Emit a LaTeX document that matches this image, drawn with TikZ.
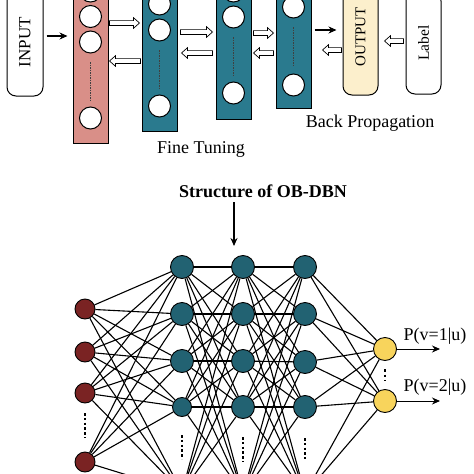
\documentclass[tikz,border=0pt]{standalone}
\usepackage{fontspec}
\usepackage{graphicx}
\setmainfont{Liberation Serif}
\usetikzlibrary{arrows.meta,calc}
\definecolor{pinkcol}{HTML}{D98F88}
\definecolor{tealcol}{HTML}{2A7A8E}
\definecolor{darkred}{HTML}{7A2323}
\definecolor{yel}{HTML}{F8D45C}
\definecolor{outfill}{HTML}{FCEFCC}
\tikzset{
  colbox/.style={draw=black, line width=1pt, minimum width=35pt, inner sep=0pt},
  rbox/.style={draw=black, line width=1pt, rounded corners=9pt, minimum width=36pt, inner sep=0pt},
  wcirc/.style={circle, draw=black, line width=1pt, fill=white, minimum size=22pt, inner sep=0pt},
  coldots/.style={line width=1pt, dash pattern=on 1.5pt off 1pt, black!75},
  hollow/.style={draw=black, line width=0.7pt, fill=white, to path={
    let \p1=(\tikztostart), \p2=(\tikztotarget), \n1={ifthenelse(\x2>\x1,1,-1)} in
    (\x1,\y1+2.4pt) -- (\x2-\n1*6pt,\y1+2.4pt) -- (\x2-\n1*6pt,\y1+5.3pt) -- (\x2,\y1)
    -- (\x2-\n1*6pt,\y1-5.3pt) -- (\x2-\n1*6pt,\y1-2.4pt) -- (\x1,\y1-2.4pt) -- cycle}},
  solidarr/.style={line width=1.1pt, -{Stealth[length=8pt, width=7pt]}},
  inode/.style={circle, draw=black, line width=0.9pt, fill=darkred, minimum size=20pt, inner sep=0pt},
  hnode/.style={circle, draw=black, line width=0.9pt, fill=tealcol!80!black, minimum size=23pt, inner sep=0pt},
  onode/.style={circle, draw=black, line width=0.9pt, fill=yel, minimum size=23pt, inner sep=0pt},
  edge/.style={line width=1.1pt, black},
  netdots/.style={line width=2.6pt, dash pattern=on 2.6pt off 2.2pt},
}
\begin{document}
\begin{tikzpicture}[x=1pt, y=-1pt, font=\fontsize{18}{21}\selectfont]
\useasboundingbox (0,0) rectangle (474,474);
\clip (0,0) rectangle (474,474);

% ---------- top part ----------
\node[rbox, minimum height=108pt] (inbox) at (25,42) {\rotatebox{90}{\fontsize{17}{20}\selectfont INPUT}};
\node[colbox, fill=pinkcol, minimum height=163pt] (pink) at (90.5,61.5) {};
\node[colbox, fill=tealcol, minimum height=151pt] (t1) at (159.5,55.5) {};
\node[colbox, fill=tealcol, minimum height=139pt] (t2) at (233.5,49.5) {};
\node[colbox, fill=tealcol, minimum height=128pt] (t3) at (293.5,44) {};
\node[rbox, fill=outfill, minimum width=35pt, minimum height=116pt] (outbox) at (360.5,37) {\rotatebox{90}{\fontsize{15}{18}\selectfont OUTPUT}};
\node[rbox, minimum width=35pt, minimum height=102pt] (lab) at (423.5,43) {\rotatebox{90}{\fontsize{15.5}{18}\selectfont Label}};

% circles in columns
\node[wcirc] (p0) at (90.5,-9) {};
\node[wcirc] (p1) at (90.5,16.5) {};
\node[wcirc] (p2) at (90.5,42) {};
\node[wcirc] (p3) at (90.5,118) {};
\draw[coldots] (90.5,62) -- (90.5,100);

\node[wcirc] (a1) at (159.5,4) {};
\node[wcirc] (a2) at (159.5,30) {};
\node[wcirc] (a3) at (159.5,106) {};
\draw[coldots] (159.5,50) -- (159.5,88);

\node[wcirc] (b0) at (233.5,-9) {};
\node[wcirc] (b1) at (233.5,17) {};
\node[wcirc] (b2) at (233.5,93) {};
\draw[coldots] (233.5,37) -- (233.5,76);

\node[wcirc] (c1) at (293.5,7) {};
\node[wcirc] (c2) at (293.5,85) {};
\draw[coldots] (293.5,27) -- (293.5,67);

% arrows top
\draw[solidarr, shorten <=3pt, shorten >=5pt] (inbox.east |- 0,36) -- (pink.west |- 0,36);
\draw[hollow] ($(pink.east |- 0,23)+(1,0)$) to ($(t1.west |- 0,23)+(-2,0)$);
\draw[hollow] ($(t1.west |- 0,61)+(-1,0)$) to ($(pink.east |- 0,61)+(1,0)$);
\draw[hollow] ($(t1.east |- 0,32)+(3,0)$) to ($(t2.west |- 0,32)+(-3,0)$);
\draw[hollow] ($(t2.west |- 0,53)+(-3,0)$) to ($(t1.east |- 0,53)+(4,0)$);
\draw[hollow] ($(t2.east |- 0,33)+(2,0)$) to ($(t3.west |- 0,33)+(-2,0)$);
\draw[hollow] ($(t3.west |- 0,53)+(-2,0)$) to ($(t2.east |- 0,53)+(2,0)$);
\draw[solidarr, shorten <=3pt, shorten >=6pt] (t3.east |- 0,30) -- (outbox.west |- 0,30);
\draw[hollow] ($(outbox.west |- 0,50)+(-1,0)$) to ($(t3.east |- 0,50)+(11,0)$);
\draw[hollow] ($(lab.west |- 0,41)+(-2,0)$) to ($(outbox.east |- 0,41)+(6,0)$);

\node (bp) at (370,123) {Back Propagation};
\node (ft) at (201,149) {Fine Tuning};

% ---------- bottom part ----------
\node[font=\fontsize{18}{21}\selectfont\bfseries] (title) at (263,191) {Structure of OB-DBN};
\coordinate (arrtop) at (234,202);
\coordinate (arrbot) at (234,246);
\draw[solidarr] (arrtop) -- (arrbot);

\foreach \y [count=\i] in {309,352,393,462} \node[inode] (in\i) at (85,\y) {};
\node[hnode] (ha1) at (182,267) {};
\node[hnode] (ha2) at (182,314) {};
\node[hnode] (ha3) at (182,361) {};
\node[hnode, minimum size=19pt] (ha4) at (182,407) {};
\node[hnode] (ha5) at (182,492) {};
\foreach \y [count=\i] in {267,314,361,407,494} \node[hnode] (hb\i) at (243,\y) {};
\foreach \y [count=\i] in {267,314,362,407,494} \node[hnode] (hc\i) at (305,\y) {};
\node[onode] (o1) at (385,349) {};
\node[onode] (o2) at (385,401) {};

\foreach \i in {1,...,4} \foreach \j in {1,...,5} \draw[edge] (in\i) -- (ha\j);
\foreach \i in {1,...,5} \foreach \j in {1,...,5} \draw[edge] (ha\i) -- (hb\j);
\foreach \i in {1,...,5} \foreach \j in {1,...,5} \draw[edge] (hb\i) -- (hc\j);
\foreach \i in {1,...,5} \foreach \j in {1,2} \draw[edge] (hc\i) -- (o\j);

\draw[netdots] (85,413) -- (85,438);
\draw[netdots] (182,435) -- (182,459);
\draw[netdots] (243,437) -- (243,462);
\draw[netdots] (305,438) -- (305,459);
\draw[line width=2.6pt, dash pattern=on 2.6pt off 3pt] (385,369) -- (385,381);

\coordinate (e1) at (440,349);
\coordinate (e2) at (440,401);
\draw[solidarr, line width=0.9pt] (o1) -- (e1);
\draw[solidarr, line width=0.9pt] (o2) -- (e2);
\node (l1) at (435,336) {P(v=1|u)};
\node (l2) at (435,387) {P(v=2|u)};
\end{tikzpicture}
\end{document}
